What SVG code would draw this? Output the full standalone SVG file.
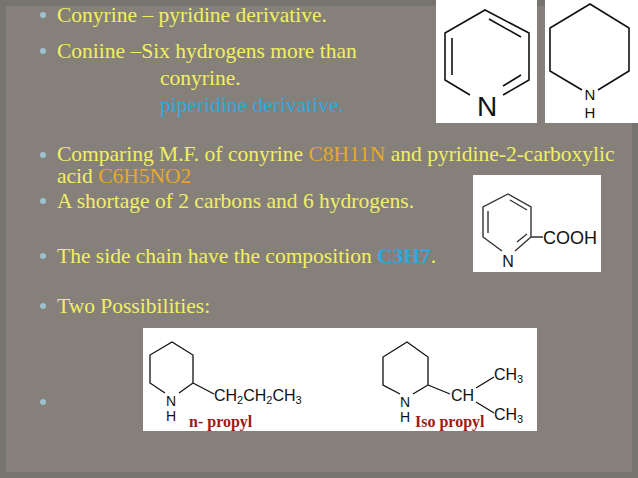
<svg xmlns="http://www.w3.org/2000/svg" width="638" height="478" viewBox="0 0 638 478">
<style>
.t{font-family:"Liberation Serif",serif;font-size:21.5px;fill:#f2f060}
.o{fill:#e8a828}
.b{fill:#2ea8e0}
.bl{fill:#9cc0cc}
.k{fill:none;stroke:#111;stroke-width:1.6}
.a{font-family:"Liberation Sans",Arial,sans-serif;fill:#111}
.r{font-family:"Liberation Serif",serif;font-size:16px;font-weight:bold;fill:#a01818}
.w{fill:#fff}
</style>
<rect width="638" height="478" fill="#77736d"/>
<rect x="6" y="6" width="626" height="466" fill="#85817a"/>
<g id="bullets" class="bl">
<circle cx="43" cy="15" r="3"/><circle cx="43" cy="51" r="3"/><circle cx="43" cy="155" r="3"/>
<circle cx="43" cy="201" r="3"/><circle cx="43" cy="256" r="3"/><circle cx="43" cy="306" r="3"/><circle cx="43" cy="402" r="3"/>
</g>
<g id="text">
<text class="t" x="57" y="22">Conyrine – pyridine derivative.</text>
<text class="t" x="57" y="58">Coniine –Six hydrogens more than</text>
<text class="t" x="160" y="85">conyrine.</text>
<text class="t b" x="160" y="112">piperidine derivative.</text>
<text class="t" x="57" y="161">Comparing M.F. of conyrine <tspan class="o">C8H11N</tspan> and pyridine-2-carboxylic</text>
<text class="t" x="57" y="183">acid <tspan class="o">C6H5NO2</tspan></text>
<text class="t" x="57" y="208">A shortage of 2 carbons and 6 hydrogens.</text>
<text class="t" x="57" y="263">The side chain have the composition <tspan class="b" font-weight="bold">C3H7</tspan>.</text>
<text class="t" x="57" y="313">Two Possibilities:</text>
</g>
<g id="pyridine">
<rect class="w" x="436" y="0" width="101" height="123"/>
<path class="k" d="M470,95 L445,80 L445,33 L485,10 L529,33 L529,80 L503,95 M452,75 L452,38 M489,19 L521,37 M521,75 L503,86"/>
<text class="a" x="487" y="116" font-size="28" text-anchor="middle">N</text>
</g>
<g id="piperidine">
<rect class="w" x="545" y="0" width="93" height="123"/>
<path class="k" d="M582,90 L550,71 L550,28 L590,4 L629,28 L629,71 L598,90"/>
<text class="a" x="590" y="100" font-size="15" text-anchor="middle">N</text>
<text class="a" x="590" y="118" font-size="15" text-anchor="middle">H</text>
</g>
<g id="picolinic">
<rect class="w" x="473" y="175" width="128" height="97"/>
<path class="k" style="stroke:#333;stroke-width:1.4" d="M502,251 L483,237 L483,207 L508,194 L531,207 L531,237 L515,251 M488,233 L488,211 M510,200 L527,210 M527,234 L517,242 M531,237 L543,237"/>
<text class="a" x="508" y="267" font-size="16" fill="#222" text-anchor="middle">N</text>
<text class="a" x="543" y="244" font-size="18" fill="#222">COOH</text>
</g>
<g id="possibilities">
<rect class="w" x="143" y="328" width="394" height="103"/>
<path class="k" style="stroke-width:1.3" d="M165,393 L150,383 L150,355 L172,342 L193,355 L193,383 L179,393 M193,383 L214,394"/>
<text class="a" x="171" y="406" font-size="14" text-anchor="middle">N</text>
<text class="a" x="171" y="421" font-size="14" text-anchor="middle">H</text>
<text class="a" x="214" y="401" font-size="16">CH<tspan font-size="11" dy="3">2</tspan><tspan dy="-3">CH</tspan><tspan font-size="11" dy="3">2</tspan><tspan dy="-3">CH</tspan><tspan font-size="11" dy="3">3</tspan></text>
<path class="k" style="stroke-width:1.3" d="M400,394 L383,385 L383,357 L407,342 L428,357 L428,385 L413,394 M428,385 L450,394 M476,388 L494,377 M476,402 L494,413"/>
<text class="a" x="405" y="407" font-size="14" text-anchor="middle">N</text>
<text class="a" x="405" y="422" font-size="14" text-anchor="middle">H</text>
<text class="a" x="451" y="401" font-size="16">CH</text>
<text class="a" x="494" y="380" font-size="16">CH<tspan font-size="11" dy="3">3</tspan></text>
<text class="a" x="494" y="420" font-size="16">CH<tspan font-size="11" dy="3">3</tspan></text>
<text class="r" x="189" y="427">n- propyl</text>
<text class="r" x="415" y="427">Iso propyl</text>
</g>
</svg>
